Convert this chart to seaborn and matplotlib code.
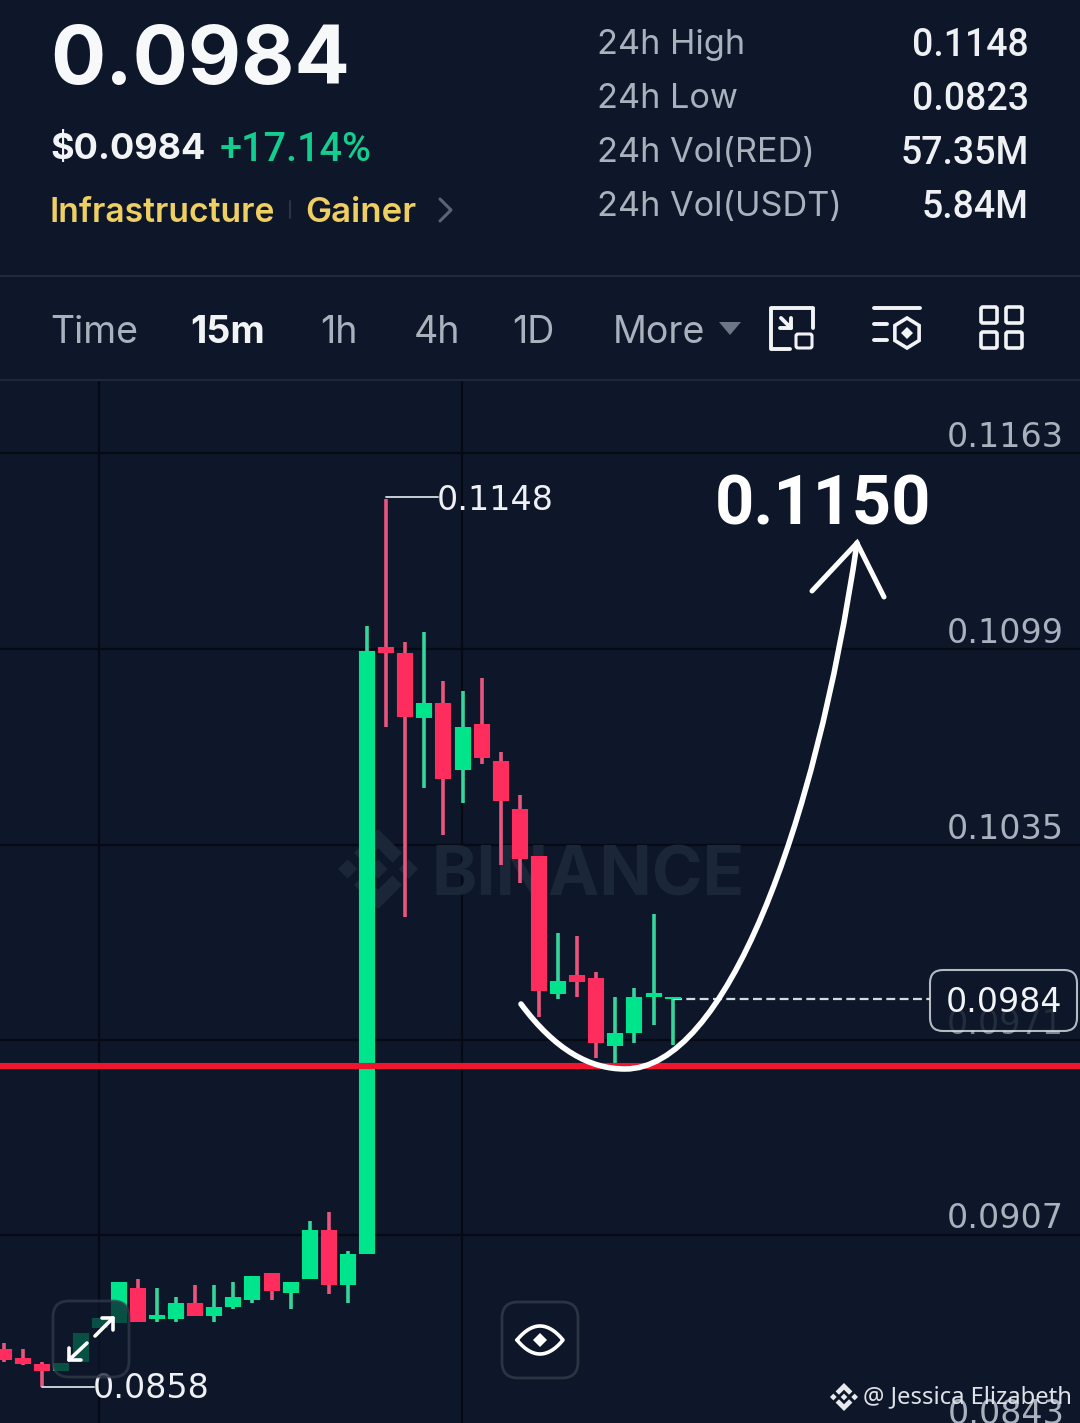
import numpy as np
import pandas as pd
import seaborn as sns
import matplotlib
matplotlib.use("Agg")
import matplotlib.pyplot as plt
from matplotlib.patches import FancyBboxPatch, PathPatch, Polygon, Rectangle
from matplotlib.path import Path

# ---- data (prices) ----
opens = [.08704,.08675,.08655,.08633,.08662,.08773,.08789,.08904,.08802,.08802,.08854,.08812,.08841,.08864,.08953,.08888,.08933,.09093,.08913,.09014,
         .10997,.10977,.10765,.10814,.10595,.10745,.10624,.10468,.10314,.09864,.09926,.09916,.09694,.09736,.09854,.09847]
closes = [.08668,.08655,.08633,.08659,.08757,.08806,.08923,.08792,.08815,.08854,.08812,.08841,.08874,.08943,.08894,.08923,.09093,.08913,.09014,.10983,
          .10977,.10768,.10814,.10566,.10735,.10634,.10494,.10304,.09873,.09906,.09903,.09704,.09736,.09854,.09867,.09854]
highs = [.08724,.08704,.08662,.08659,.08757,.08806,.08923,.08933,.08904,.08874,.08913,.08913,.08923,.08943,.08953,.08923,.09122,.09152,.09024,.11065,
         .11480,.11013,.11046,.10886,.10853,.10895,.10654,.10513,.10314,.10063,.10053,.09935,.09854,.09883,.10125,.09854]
lows = [.08662,.08652,.08581,.08633,.08662,.08773,.08789,.08792,.08792,.08792,.08812,.08792,.08835,.08854,.08864,.08835,.08933,.08884,.08854,.09014,
        .10735,.10115,.10536,.10383,.10487,.10614,.10285,.10226,.09788,.09847,.09854,.09655,.09638,.09704,.09762,.09696]
axis_ticks = [0.1163, 0.1099, 0.1035, 0.09713, 0.09078, 0.08437]
axis_labels = ["0.1163", "0.1099", "0.1035", "0.0971", "0.0907", "0.0843"]
support_price = 0.09628
last_price = 0.09847
high_price, low_price = 0.11486, 0.0858
high_idx, low_idx = 20, 2
last_idx = 35

stats_names = ["24h High", "24h Low", "24h Vol(RED)", "24h Vol(USDT)"]
stats_values = ["0.1148", "0.0823", "57.35M", "5.84M"]
tabs = ["Time", "15m", "1h", "4h", "1D", "More"]

# ---- colours ----
BG = "#0d1729"
GRID = "#050a13"
GREEN = "#00e48c"
RED = "#ff2c5e"
WICK_GREEN = "#35d69c"
WICK_RED = "#e9557c"
GREY = "#a9b1bd"

sns.set_theme(style="dark")
plt.rcParams["font.family"] = ["Inter", "Roboto", "DejaVu Sans"]
TAB_FONT = ["DejaVu Sans"]

W, H = 1080, 1423
fig = plt.figure(figsize=(W / 100, H / 100), dpi=100, facecolor=BG)

# ---- chart axes, price scale ----
ax = fig.add_axes([0, 0, 1, (H - 380) / H], facecolor=BG)
ax.set_xlim(-0.215, 56.33)
ax.set_ylim(0.084627, 0.118684)

idx = np.arange(len(opens))
up = np.array(closes) >= np.array(opens)
kind = np.where(up, "up", "down")
wicks = pd.DataFrame({"i": np.tile(idx, 2), "price": lows + highs, "kind": np.tile(kind, 2)})
bodies = pd.DataFrame({"i": np.tile(idx, 2), "price": opens + closes, "kind": np.tile(kind, 2)})


def logo(target, cx, cy, r, color, zorder, transform=None):
    """Binance mark, y pointing down, in pixel coordinates."""
    tr = transform if transform is not None else target.transData
    d = 0.24
    shapes = [
        [(0, -d), (d, 0), (0, d), (-d, 0)],
        [(-.76, -d), (-.76 + d, 0), (-.76, d), (-.76 - d, 0)],
        [(.76, -d), (.76 + d, 0), (.76, d), (.76 - d, 0)],
        [(0, -1), (.6, -.4), (.36, -.16), (0, -.52), (-.36, -.16), (-.6, -.4)],
        [(0, 1), (.6, .4), (.36, .16), (0, .52), (-.36, .16), (-.6, .4)],
    ]
    for sh in shapes:
        target.add_patch(Polygon([(cx + r * a, cy + r * b) for a, b in sh], closed=True, fc=color, ec="none",
                                 zorder=zorder, transform=tr))


px = matplotlib.transforms.Affine2D().scale(1, -1).translate(0, H)  # image pixels -> display

for t in axis_ticks:
    ax.axhline(t, color=GRID, lw=1.6, zorder=1)
ax.axvline(4.97, color=GRID, lw=1.6, zorder=1)
ax.axvline(23.97, color=GRID, lw=1.6, zorder=1)

# watermark
ax.text(22.4, 0.10244, "BINANCE", color="#1b2739", fontsize=49.5, fontweight="bold",
        ha="left", va="center", zorder=1.5)
logo(ax, 378, 869, 40, "#1b2739", 1.5, transform=px)

sns.lineplot(data=wicks, x="i", y="price", hue="kind", units="i", estimator=None, sort=False,
             palette={"up": WICK_GREEN, "down": WICK_RED}, linewidth=2.6, legend=False, ax=ax, zorder=3,
             solid_capstyle="butt")
sns.lineplot(data=bodies, x="i", y="price", hue="kind", units="i", estimator=None, sort=False,
             palette={"up": GREEN, "down": RED}, linewidth=11.6, legend=False, ax=ax, zorder=4,
             solid_capstyle="butt")

ax.axhline(support_price, color="#f0142f", lw=4.4, zorder=5)
ax.set_xlim(-0.215, 56.33)
ax.set_ylim(0.084627, 0.118684)
ax.set_xlabel("")
ax.set_ylabel("")
ax.set_xticks([])
ax.set_yticks([])
ax.grid(False)
for s in ax.spines.values():
    s.set_visible(False)

# last-price dashed line
ax.plot([last_idx, 48.5], [last_price, last_price], color="#d5dae2", lw=1.6, ls=(0, (4, 2)), zorder=3)

# high / low leader lines and labels
ax.plot([high_idx, 22.7], [high_price, high_price], color="#c9ced6", lw=1.4, zorder=5)
ax.text(22.65, high_price - 0.00012, "0.1148", color="#eef0f3", fontsize=24, ha="left", va="center",
        zorder=6, family=TAB_FONT)
ax.plot([low_idx, 4.7], [low_price, low_price], color="#c9ced6", lw=1.4, zorder=5)
ax.text(4.65, low_price - 0.00006, "0.0858", color="#eef0f3", fontsize=24, ha="left", va="center", zorder=6,
        family=TAB_FONT)

# price-axis labels
for t, lab in zip(axis_ticks, axis_labels):
    tx = ax.text(55.5, t + 0.00052, lab, color=GREY, fontsize=24, ha="right", va="center", zorder=2,
                 family=TAB_FONT)
    if lab == "0.0971":
        tx.set_color("#7b8492")
        tx.set_clip_path(Rectangle((900, 960), 180, 70, transform=px))

# ---- pixel-space overlay for the app chrome ----
ui = fig.add_axes([0, 0, 1, 1], facecolor="none", zorder=10)
ui.set_xlim(0, W)
ui.set_ylim(H, 0)
ui.axis("off")


def T(x, y, s, size, color, **k):
    return ui.text(x, y + 3, s, fontsize=size * 0.72, color=color, va="center", ha=k.pop("ha", "left"), **k)


ui.plot([0, W], [276, 276], color="#242d3c", lw=1.3)
ui.plot([0, W], [380, 380], color="#1e2737", lw=1.6)

T(50, 60, "0.0984", 82, "#f7f8fa", fontweight="bold")
T(50, 147, "$0.0984", 36, "#f2f3f5", fontweight="bold")
T(220, 147, "+17.14%", 39.5, "#12cf8f", fontweight="medium", family=["Roboto", "DejaVu Sans"])
T(50, 210, "Infrastructure", 33.6, "#efce62", fontweight="semibold")
ui.plot([290, 290], [201, 218], color="#2b3443", lw=1.5)
T(305, 210, "Gainer", 34.8, "#efce62", fontweight="semibold")
ui.plot([440, 451, 440], [199, 210, 221], color="#5b6472", lw=2.2)

for y, n, v in zip([42, 96, 150, 204], stats_names, stats_values):
    T(597, y, n, 34.3, GREY)
    T(1029, y, v, 37.5, "#eef0f3", ha="right", fontweight="medium", family=["Roboto", "DejaVu Sans"])

for x, s, c, w in zip([50, 190, 320, 414, 512, 613], tabs,
                      [GREY, "#f2f3f5", GREY, GREY, GREY, GREY],
                      ["normal", "bold", "normal", "normal", "normal", "normal"]):
    T(x, 330, s, 37.6, c, fontweight=w)
ui.add_patch(Polygon([(719, 322), (741, 322), (730, 335)], closed=True, fc="#6d7684", ec="none"))

# toolbar icons
ICON = dict(color="#f2f3f5", lw=2.8, solid_capstyle="round", solid_joinstyle="round")
ui.plot([790, 771, 771, 813, 813], [349, 349, 308, 308, 328], **ICON)
ui.plot([781, 791], [318, 328], **ICON)
ui.plot([780, 791, 791], [328, 328, 318], **ICON)
ui.add_patch(FancyBboxPatch((796, 334), 16, 14, boxstyle="round,pad=0,rounding_size=2", fc="none", ec="#f2f3f5", lw=2.2))
ui.plot([874, 920], [308, 308], **ICON)
ui.plot([874, 887], [324, 324], **ICON)
ui.plot([874, 887], [340, 340], **ICON)
hex_t = np.deg2rad(np.arange(-90, 270, 60))
ui.add_patch(Polygon(np.c_[907 + 14 * np.cos(hex_t), 333 + 15 * np.sin(hex_t)], closed=True, fc="none", ec="#f2f3f5", lw=2.6))
ui.add_patch(Polygon([(907, 327), (913, 333), (907, 339), (901, 333)], closed=True, fc="#f2f3f5", ec="none"))
for bx in (981, 1006):
    for by in (307, 332):
        ui.add_patch(FancyBboxPatch((bx, by), 16, 16, boxstyle="round,pad=0,rounding_size=2", fc="none", ec="#f2f3f5", lw=2.6))

# the hand-drawn cup and arrow
verts = [(521, 1004), (555, 1050), (590, 1069), (625, 1069), (725, 1069), (815, 830), (857, 543)]
codes = [Path.MOVETO] + [Path.CURVE4] * 6
ui.add_patch(PathPatch(Path(verts, codes), fc="none", ec="white", lw=4, capstyle="round"))
ui.plot([812, 857, 884], [591, 543, 597], color="white", lw=3.6, solid_capstyle="round", solid_joinstyle="miter")
T(823, 503, "0.1150", 68.5, "white", ha="center", fontweight="bold", family=["Roboto", "DejaVu Sans"])

# last price tag
ui.add_patch(FancyBboxPatch((930, 970), 147, 61, boxstyle="round,pad=0,rounding_size=13", fc=BG, ec="#dfe3e8", lw=1.5, alpha=.8))
T(1062, 1000, "0.0984", 33.3, "#f2f3f5", ha="right", family=TAB_FONT)

# overlay buttons
ui.add_patch(FancyBboxPatch((53, 1301), 76, 76, boxstyle="round,pad=0,rounding_size=16", fc=BG, ec="#333c4b", lw=2, alpha=.72))
ui.plot([95, 113], [1336, 1318], color="white", lw=2.6)
ui.plot([102, 113, 113], [1318, 1318, 1330], color="white", lw=2.6)
ui.plot([69, 87], [1360, 1343], color="white", lw=2.6)
ui.plot([69, 69, 81], [1348, 1360, 1360], color="white", lw=2.6)
ui.add_patch(FancyBboxPatch((502, 1302), 76, 76, boxstyle="round,pad=0,rounding_size=16", fc=BG, ec="#2b3443", lw=2))
s = np.linspace(-1, 1, 40)
ui.plot(np.r_[540 + 23 * s, 540 - 23 * s], np.r_[1340 - 14 * (1 - s ** 2), 1340 + 14 * (1 - s ** 2)], color="white", lw=2.6)
ui.add_patch(Polygon([(540, 1333), (547, 1340), (540, 1347), (533, 1340)], closed=True, fc="white", ec="none"))

# credit
T(863, 1394, "@ Jessica Elizabeth", 23.8, "#dfe3e8", family=["Noto Sans", "DejaVu Sans"])
logo(ui, 844, 1397, 14, "#e8eaee", 12)

fig.savefig("out.png", dpi=100, facecolor=BG)
